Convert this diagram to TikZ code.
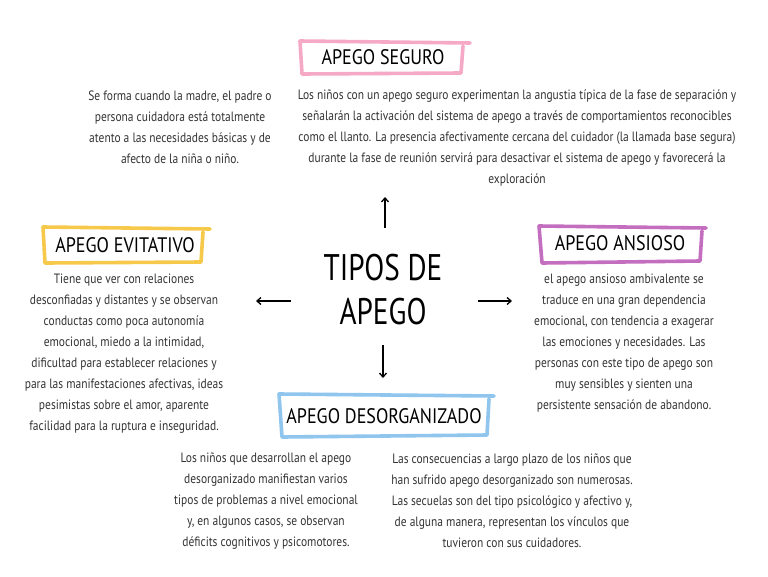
\documentclass[tikz,border=0pt]{standalone}
\usepackage{fontspec}
\setmainfont{PT Sans}[FakeStretch=0.85]
\newfontfamily\titf{PT Sans}[FakeStretch=0.86]
\newfontfamily\cenf{PT Sans}[FakeStretch=0.79]
\usetikzlibrary{arrows.meta}
\definecolor{txt}{HTML}{333333}
\definecolor{cpink}{HTML}{F5A9C5}
\definecolor{cyellow}{HTML}{F6C94A}
\definecolor{cpurple}{HTML}{C46EC0}
\definecolor{cblue}{HTML}{90C6EE}
\tikzset{
  body/.style={text=txt, align=center, font=\fontsize{13.5}{21}\selectfont, inner sep=0pt},
  title/.style={text=black, font=\titf\fontsize{21}{24}\selectfont, inner sep=0pt},
  frame/.style={line width=3.6pt, line join=round, line cap=round},
  arr/.style={line width=1.3pt, -{Straight Barb[length=4pt,width=7pt]}},
}
\begin{document}
\begin{tikzpicture}[x=1pt,y=-1pt]
\useasboundingbox[fill=white] (0,0) rectangle (768,576);

% frames
\draw[frame,cpink] (470,43) -- (300,41) -- (302,74) -- (461,73) -- (463,46);
\draw[frame,cyellow] (210,229) -- (43,227) -- (45,263) -- (201,262) -- (203,232);
\draw[frame,cpurple] (706,228) -- (539,226) -- (542,263) -- (700,261) -- (702,231);
\draw[frame,cblue] (494,396) -- (279,394) -- (282,437) -- (487,435) -- (489,399);

% titles
\node[title] (seg) at (383,57) {APEGO SEGURO};
\node[title] (evi) at (125,245) {APEGO EVITATIVO};
\node[title] (ans) at (620,243) {APEGO ANSIOSO};
\node[title] (des) at (384,416) {APEGO DESORGANIZADO};

% center
\node[text=black, align=center, font=\cenf\fontsize{37}{44}\selectfont, inner sep=0pt] (tip) at (383,290) {TIPOS DE\\APEGO};

% arrows
\coordinate (upS) at (385,228); \coordinate (upE) at (385,197);
\coordinate (dnS) at (383,345); \coordinate (dnE) at (383,378);
\coordinate (lfS) at (291,301); \coordinate (lfE) at (256,301);
\coordinate (rtS) at (478,301); \coordinate (rtE) at (512,301);
\draw[arr] (upS) -- (upE);
\draw[arr] (dnS) -- (dnE);
\draw[arr] (lfS) -- (lfE);
\draw[arr] (rtS) -- (rtE);

% body texts
\node[body] (t1) at (180,127) {Se forma cuando la madre, el padre o\\persona cuidadora está totalmente\\atento a las necesidades básicas y de\\afecto de la niña o niño.};
\node[body] (t2) at (517,137.5) {Los niños con un apego seguro experimentan la angustia típica de la fase de separación y\\señalarán la activación del sistema de apego a través de comportamientos reconocibles\\como el llanto. La presencia afectivamente cercana del cuidador (la llamada base segura)\\durante la fase de reunión servirá para desactivar el sistema de apego y favorecerá la\\exploración};
\node[body] (t3) at (124,353.5) {Tiene que ver con relaciones\\desconfiadas y distantes y se observan\\conductas como poca autonomía\\emocional, miedo a la intimidad,\\dificultad para establecer relaciones y\\para las manifestaciones afectivas, ideas\\pesimistas sobre el amor, aparente\\facilidad para la ruptura e inseguridad.};
\node[body] (t4) at (624,343) {el apego ansioso ambivalente se\\traduce en una gran dependencia\\emocional, con tendencia a exagerar\\las emociones y necesidades. Las\\personas con este tipo de apego son\\muy sensibles y sienten una\\persistente sensación de abandono.};
\node[body] (t5) at (266,501) {Los niños que desarrollan el apego\\desorganizado manifiestan varios\\tipos de problemas a nivel emocional\\y, en algunos casos, se observan\\déficits cognitivos y psicomotores.};
\node[body] (t6) at (512,501) {Las consecuencias a largo plazo de los niños que\\han sufrido apego desorganizado son numerosas.\\Las secuelas son del tipo psicológico y afectivo y,\\de alguna manera, representan los vínculos que\\tuvieron con sus cuidadores.};
\end{tikzpicture}
\end{document}
